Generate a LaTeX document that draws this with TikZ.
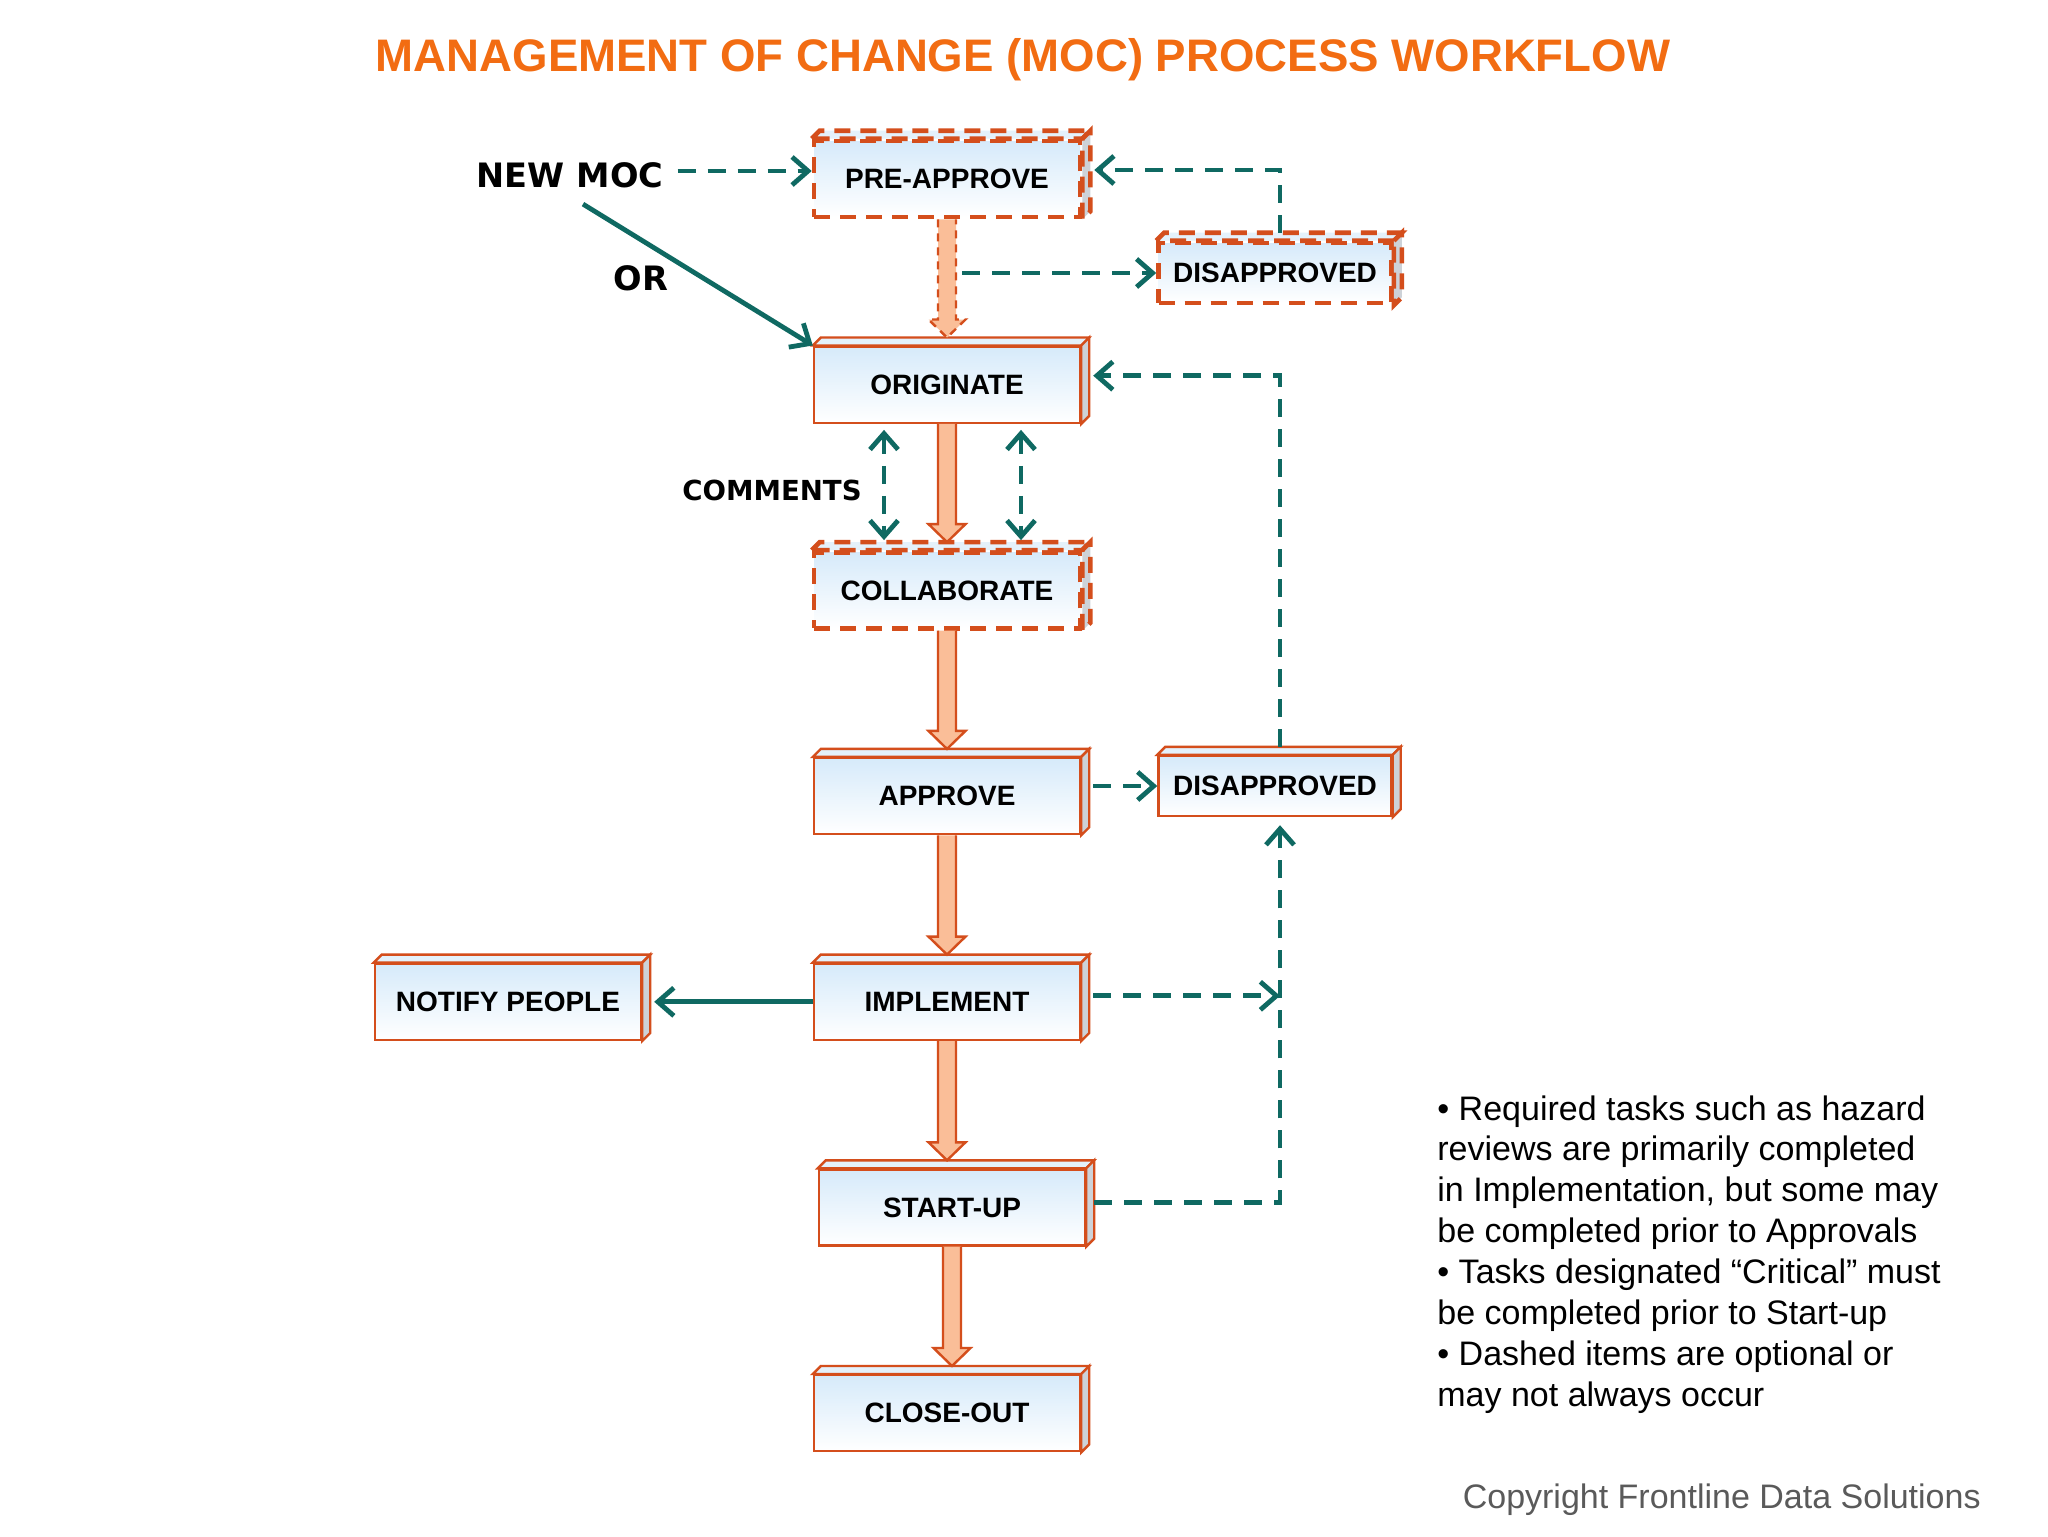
\documentclass[tikz,border=0pt]{standalone}
\usepackage{fontspec}
\setmainfont{Liberation Sans}
\newfontfamily\dejavu{DejaVu Sans}
\usetikzlibrary{arrows.meta,calc}

\definecolor{flowteal}{RGB}{15,105,98}
\definecolor{boxedge}{RGB}{212,78,28}
\definecolor{boxtop}{RGB}{214,234,250}
\definecolor{topface}{RGB}{228,241,251}
\definecolor{sideface}{RGB}{205,210,216}
\definecolor{fatfill}{RGB}{250,190,152}
\definecolor{titleorange}{RGB}{242,108,18}
\definecolor{copygray}{RGB}{90,90,90}

\tikzset{
  stepbox/.style={draw=boxedge, line width=1.2pt, top color=boxtop, bottom color=white,
                  minimum width=133pt, minimum height=38pt, inner sep=0pt,
                  font=\fontsize{14}{16}\selectfont\bfseries},
  optional/.style={line width=2.3pt, dash pattern=on 8pt off 5pt},
  narrow/.style={minimum width=116.5pt, minimum height=30pt},
  flow/.style={draw=flowteal, line width=2.4pt, ->},
  optflow/.style={flow, dash pattern=on 9pt off 6pt},
  fat/.style={draw=boxedge, line width=1.2pt, fill=fatfill},
  lbl/.style={inner sep=0pt, font=\dejavu\fontsize{16.8}{20}\selectfont\bfseries},
}

% top and side faces of a box
\newcommand\boxdepth[2][]{%
  \draw[draw=boxedge, line width=1.2pt, fill=topface, #1] (#2.north west) -- ++(8,-8)
    -- ($(#2.north east)+(8,-8)$) -- (#2.north east) -- cycle;
  \draw[draw=boxedge, line width=1.2pt, fill=sideface, #1] (#2.north east) -- ++(8,-8)
    -- ($(#2.south east)+(8,-8)$) -- (#2.south east) -- cycle;
}

% broad arrow between two boxes of the column
\newcommand\fatarrow[3][]{%
  \path (#2.south) coordinate (fa) ($(#2.south |- #3.north)+(0,-8)$) coordinate (fb);
  \draw[fat, #1] ($(fa)+(-9,0)$) -- ($(fb)+(-9,-18)$) -- ($(fb)+(-18.5,-18)$) -- (fb)
    -- ($(fb)+(18.5,-18)$) -- ($(fb)+(9,-18)$) -- ($(fa)+(9,0)$);
}

\begin{document}
\begin{tikzpicture}[x=0.5pt, y=-0.5pt, node distance=102.85pt,
                    >={Straight Barb[length=8pt,width=14pt]}]
  \useasboundingbox[fill=white] (0,0) rectangle (2048,1536);

  \node[font=\fontsize{22.8}{27}\selectfont\bfseries, text=titleorange, anchor=base]
       (title) at (1023,72) {MANAGEMENT OF CHANGE (MOC) PROCESS WORKFLOW};

  \node[stepbox, optional] (pre)   at (947,179)        {PRE-APPROVE};
  \node[stepbox]           (orig)  [below of=pre]      {ORIGINATE};
  \node[stepbox, optional] (coll)  [below of=orig]     {COLLABORATE};
  \node[stepbox]           (appr)  [below of=coll]     {APPROVE};
  \node[stepbox]           (impl)  [below of=appr]     {IMPLEMENT};
  \node[stepbox]           (start) [below of=impl, xshift=2.5pt] {START-UP};
  \node[stepbox]           (close) [below of=start, xshift=-2.5pt] {CLOSE-OUT};
  \node[stepbox]           (notify) [node distance=219.5pt, left of=impl] {NOTIFY PEOPLE};
  \node[stepbox, narrow, optional] (dis1) at (1275,273) {DISAPPROVED};
  \node[stepbox, narrow]   (dis2)  at (1275,786)       {DISAPPROVED};

  \foreach \n in {orig,appr,impl,start,close,notify,dis2} {\boxdepth{\n}}
  \foreach \n in {pre,coll,dis1} {\boxdepth[optional]{\n}}

  \fatarrow[dash pattern=on 4pt off 3pt]{pre}{orig}
  \fatarrow{orig}{coll}
  \fatarrow{coll}{appr}
  \fatarrow{appr}{impl}
  \fatarrow{impl}{start}
  \fatarrow{start}{close}

  \node[lbl] (newmoc) at (570,175) {NEW MOC};
  \node[lbl] (orlbl)  at (641,278) {OR};
  \node[lbl, font=\dejavu\fontsize{13.8}{16}\selectfont\bfseries] (comments) at (772,490) {COMMENTS};

  \draw[optflow] ($(newmoc.east)+(14,-4)$) -- ($(pre.west)+(0,-8)$);
  \draw[flow] ($(newmoc.south)+(13,16)$) -- (orig.north west);
  \draw[optflow] ($(pre.south |- dis1.west)+(15,0)$) -- (dis1.west);
  \draw[optflow] ($(dis1.north)+(5,-8)$) |- ($(pre.east)+(12,-9)$);
  \foreach \dx in {-63,74}
    \draw[optflow, <->] ($(orig.south)+(\dx,6)$) -- ($(coll.north)+(\dx,-10)$);
  \draw[optflow] ($(appr.east |- dis2.west)+(12,0)$) -- (dis2.west);
  \draw[optflow] ($(dis2.north)+(5,-8)$) |- ($(orig.east)+(12,-9)$);
  \draw[flow] (impl.west) -- ($(impl.west -| notify.east)+(12,0)$);
  \coordinate (rail) at ($(dis2.south)+(5,0)$);
  \draw[optflow] ($(impl.east)+(12,-6)$) -- ($(impl.east -| rail)+(0,-6)$);
  \draw[optflow] ($(start.east)+(8,-5)$) -| ($(rail)+(0,8)$);

  \node[anchor=north west, align=left, inner sep=0pt, font=\fontsize{17}{20.45}\selectfont]
       (notes) at (1437,1095) {• Required tasks such as hazard\\
                               reviews are primarily completed\\
                               in Implementation, but some may\\
                               be completed prior to Approvals\\
                               • Tasks designated “Critical” must\\
                               be completed prior to Start-up\\
                               • Dashed items are optional or\\
                               may not always occur};
  \node[anchor=base east, inner sep=0pt, text=copygray, font=\fontsize{17}{20}\selectfont]
       (copy) at (1981,1508) {Copyright Frontline Data Solutions};
\end{tikzpicture}
\end{document}
